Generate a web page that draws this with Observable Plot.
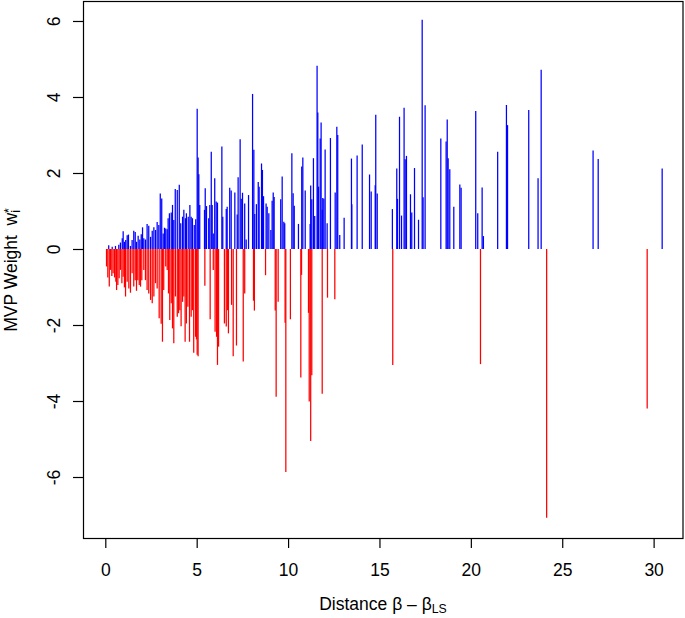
<!DOCTYPE html>
<html>
<head>
<meta charset="utf-8">
<script src="https://cdn.jsdelivr.net/npm/d3@7"></script>
<script src="https://cdn.jsdelivr.net/npm/@observablehq/plot@0.6"></script>
<style>
  html, body { margin: 0; padding: 0; background: #fff; }
  svg { display: block; }
</style>
</head>
<body>
<div id="chart"></div>
<script>
// Positive MVP weights (blue)
const blueX = [0.16,0.35,0.53,0.71,0.80,0.90,0.95,1.02,1.09,1.17,1.24,1.35,1.44,1.53,1.61,1.68,1.77,1.86,1.94,2.01,2.08,2.17,2.26,2.35,2.45,2.54,2.63,2.72,2.81,2.90,2.98,3.06,3.14,3.21,3.28,3.36,3.41,3.48,3.58,3.65,3.72,3.80,3.91,4.02,4.10,4.20,4.27,4.36,4.41,4.51,4.60,4.67,4.74,4.84,4.92,5.00,5.05,5.09,5.14,5.40,5.44,5.51,5.63,5.69,5.77,5.82,5.88,5.96,6.04,6.11,6.35,6.40,6.59,6.64,6.78,6.86,7.06,7.19,7.24,7.35,7.41,7.48,7.60,7.68,7.81,8.03,8.10,8.15,8.24,8.34,8.39,8.52,8.57,8.63,8.77,8.83,8.92,9.03,9.10,9.16,9.21,9.57,9.65,9.74,9.79,10.18,10.25,10.31,10.54,10.72,10.78,10.91,11.18,11.21,11.27,11.36,11.43,11.56,11.60,11.64,11.73,11.78,11.84,11.87,11.93,12.00,12.11,12.29,12.55,12.64,12.69,12.80,13.04,13.44,13.46,13.75,14.03,14.43,14.52,14.74,14.77,14.85,15.68,15.92,15.96,16.07,16.18,16.32,16.38,16.45,16.67,16.74,16.89,17.11,17.31,17.36,17.47,18.33,18.62,18.68,18.73,18.82,19.04,19.37,19.44,20.24,20.35,20.59,20.66,21.44,21.92,21.98,23.14,23.65,23.82,26.66,26.94,30.44];
const blueW = [0.10,0.06,0.08,0.11,0.17,0.28,0.47,0.19,0.24,0.36,0.38,0.08,0.24,0.48,0.45,0.19,0.35,0.25,0.39,0.57,0.28,0.25,0.66,0.61,0.32,0.48,0.57,0.50,0.71,0.63,1.46,1.33,0.41,0.56,0.54,0.52,0.81,0.94,0.96,1.16,0.76,1.58,1.55,1.69,0.68,0.85,1.03,0.81,0.94,0.85,1.16,0.85,0.81,0.63,0.78,3.69,2.41,1.97,1.16,1.03,1.60,1.13,0.81,1.16,2.56,1.16,0.41,1.86,1.25,1.22,2.70,0.85,1.05,1.11,1.61,1.54,1.49,0.91,1.89,2.89,1.32,1.48,1.20,0.25,1.42,4.08,2.61,0.92,1.18,1.76,1.64,2.25,2.08,1.39,1.20,1.11,0.94,0.50,1.27,1.49,1.37,1.31,1.91,0.72,0.68,2.52,1.47,1.14,0.66,2.17,2.41,1.54,0.66,1.67,1.31,2.39,0.87,4.82,3.59,1.64,2.91,3.33,1.03,1.34,1.32,2.62,0.68,2.92,1.49,3.22,3.00,0.37,0.82,2.38,1.18,2.46,2.75,1.96,1.51,1.68,3.53,1.46,1.05,2.12,1.32,3.48,0.88,3.72,2.36,2.45,1.44,0.96,2.13,0.77,6.03,1.36,3.78,2.91,2.83,3.41,2.39,2.10,1.11,1.70,1.61,3.63,0.94,1.62,0.34,2.56,3.79,3.26,3.66,1.86,4.72,2.59,2.37,2.12];

// Negative MVP weights (red)
const redX = [0.04,0.11,0.19,0.26,0.33,0.40,0.48,0.55,0.59,0.66,0.73,0.80,0.88,0.95,1.02,1.08,1.17,1.26,1.35,1.44,1.53,1.61,1.68,1.75,1.83,1.90,1.97,2.08,2.17,2.26,2.35,2.45,2.54,2.63,2.72,2.81,2.92,3.03,3.10,3.17,3.28,3.36,3.43,3.50,3.58,3.65,3.72,3.81,3.91,3.98,4.05,4.12,4.20,4.27,4.34,4.41,4.49,4.58,4.67,4.74,4.81,4.91,4.96,5.00,5.05,5.42,5.71,5.88,5.98,6.06,6.11,6.17,6.49,6.59,6.66,6.71,6.88,6.97,7.15,7.52,7.60,8.08,8.13,8.74,9.27,9.32,9.43,9.81,9.85,10.10,10.67,10.71,11.09,11.13,11.21,11.27,11.84,12.13,12.53,15.70,20.50,24.12,29.62];
const redW = [-0.46,-0.75,-0.99,-0.55,-0.71,-0.64,-0.75,-0.86,-1.08,-0.95,-0.77,-0.55,-0.90,-0.73,-1.01,-1.25,-0.86,-1.04,-1.15,-0.64,-0.99,-0.82,-1.10,-0.82,-0.95,-0.99,-0.82,-0.55,-0.82,-1.08,-1.17,-1.34,-1.43,-1.25,-0.90,-1.04,-1.82,-1.97,-2.44,-1.08,-0.46,-0.55,-1.17,-1.87,-1.43,-2.09,-2.48,-1.25,-1.78,-1.69,-1.61,-2.03,-1.39,-1.25,-2.44,-1.96,-1.52,-2.44,-1.78,-1.61,-2.73,-2.31,-2.38,-2.78,-2.82,-0.97,-1.85,-0.55,-2.18,-2.31,-3.05,-2.57,-1.96,-2.04,-1.61,-2.22,-1.47,-2.82,-2.54,-2.96,-1.17,-1.36,-1.62,-0.69,-1.62,-3.89,-1.39,-1.94,-5.87,-1.85,-3.38,-0.68,-1.68,-4.01,-5.05,-3.32,-3.81,-1.28,-1.32,-3.05,-3.03,-7.07,-4.20];

const xTicks = [0, 5, 10, 15, 20, 25, 30];
const yTicks = [-6, -4, -2, 0, 2, 4, 6];

const blue = blueX.map((x, i) => ({x, w: blueW[i]}));
const red = redX.map((x, i) => ({x, w: redW[i]}));

const FONT = "'Liberation Sans', Arial, Helvetica, sans-serif";
const FS = 17.5;

const svg = Plot.plot({
  width: 685,
  height: 618,
  marginLeft: 83,
  marginRight: 2.5,
  marginTop: 1,
  marginBottom: 80,
  style: {fontFamily: FONT, fontSize: FS + "px", background: "#fff", color: "black"},
  x: {domain: [-1.22, 31.58]},
  y: {domain: [-7.605, 6.526]},
  marks: [
    Plot.ruleX(blue, {x: "x", y1: 0, y2: "w", stroke: "#0000FF", strokeWidth: 1.25}),
    Plot.ruleX(red, {x: "x", y1: 0, y2: "w", stroke: "#FF0000", strokeWidth: 1.25}),
    Plot.frame({stroke: "black", strokeWidth: 1.2}),
    Plot.axisX({ticks: xTicks, tickSize: 10, tickPadding: 15, tickFormat: d => String(d), label: null, fontSize: FS, strokeWidth: 1.2}),
    Plot.axisY({ticks: yTicks, tickSize: 10, tickFormat: () => "", label: null, strokeWidth: 1.2}),
    Plot.text(yTicks, {y: d => d, text: d => String(d), frameAnchor: "left", dx: -24, rotate: -90, textAnchor: "middle", lineAnchor: "bottom", fontSize: FS, fill: "black"})
  ]
});

document.getElementById("chart").appendChild(svg);

// Axis titles with sub/superscripts
const s = d3.select(svg);
const xt = s.append("text")
  .attr("x", 383).attr("y", 610)
  .attr("text-anchor", "middle")
  .attr("font-family", FONT).attr("font-size", FS).attr("fill", "black");
xt.append("tspan").text("Distance \u03B2 \u2013 \u03B2");
xt.append("tspan").attr("dy", 3).attr("font-size", FS * 0.7).text("LS");

const yt = s.append("text")
  .attr("transform", "translate(16.5,270) rotate(-90)")
  .attr("text-anchor", "middle")
  .attr("font-family", FONT).attr("font-size", FS).attr("fill", "black");
yt.append("tspan").text("MVP Weight  w");
yt.append("tspan").attr("dy", 3).attr("font-size", FS * 0.7).text("i");
yt.append("tspan").attr("dx", -3).attr("dy", -6.5).attr("font-size", FS * 0.7).text("*");
</script>
</body>
</html>
